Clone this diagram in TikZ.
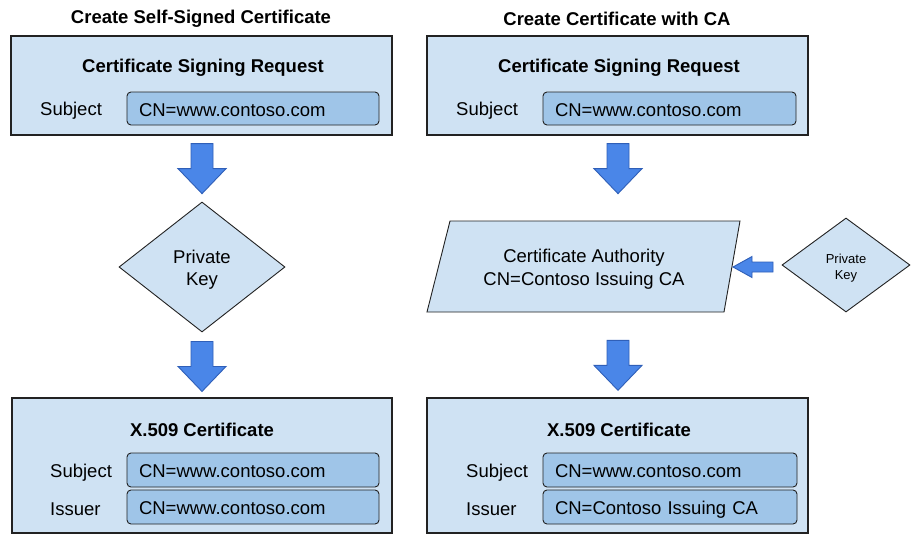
\documentclass[tikz,border=0pt]{standalone}
\usepackage{fontspec}
\setmainfont{Liberation Sans}
\usetikzlibrary{shapes.geometric,calc}
\definecolor{boxfill}{HTML}{CFE2F3}
\definecolor{fieldfill}{HTML}{9FC5E8}
\definecolor{arrfill}{HTML}{4A86E8}
\definecolor{arrdraw}{HTML}{2F5FB8}
\definecolor{edge}{HTML}{222222}
\begin{document}
\begin{tikzpicture}[x=1pt,y=-1pt,
  every node/.style={font=\fontsize{18.5}{22}\selectfont},
  panel/.style={draw=edge,line width=1.3pt,fill=boxfill,rectangle,inner sep=0pt},
  field/.style={draw=edge,line width=0.9pt,fill=fieldfill,rounded corners=4pt,
    minimum height=33pt,inner xsep=12pt,inner ysep=0pt,align=left,text height=15pt,text depth=0pt},
  lbl/.style={anchor=west,inner sep=0pt,yshift=-2.5pt},
  head/.style={font=\fontsize{18.5}{22}\selectfont\bfseries,inner sep=0pt,yshift=-2pt},
  keyshape/.style={draw=edge,line width=0.9pt,fill=boxfill,diamond,inner sep=0pt},
  keytext/.style={inner sep=0pt,align=center},
  arrowfill/.style={draw=arrdraw,line width=0.9pt,fill=arrfill,line join=miter},
  downarr/.pic={\draw[arrowfill] (-11,0) -- (11,0) -- (11,25) -- (24,25) -- (0,50) -- (-24,25) -- (-11,25) -- cycle;},
  leftarr/.pic={\draw[arrowfill] (0,0) -- (19,-10.5) -- (19,-5) -- (40,-5) -- (40,5) -- (19,5) -- (19,10.5) -- cycle;}
]
\fill[white] (0,0) rectangle (916,544);
\path[use as bounding box] (0,0) rectangle (916,544);

% column titles
\node[head] (t1) at (201,17) {Create Self-Signed Certificate};
\node[head] (t2) at (617,17) {Create Certificate with CA};

% ---------- left column ----------
\node[panel,minimum width=381pt,minimum height=99pt] (csr1) at (201.5,85.5) {};
\node[head] (csr1t) at (203,66) {Certificate Signing Request};
\node[lbl] (csr1s) at (40,108) {Subject};
\node[field,text width=228pt] (csr1f) at (253,108.5) {CN=www.contoso.com};

\node[keyshape,minimum width=166pt,minimum height=130pt] (key1) at (202,267) {};
\node[keytext] (key1t) at ($(key1.center)+(0,2.5)$) {Private\\Key};

\node[panel,minimum width=380pt,minimum height=135pt] (x1) at (202,465.5) {};
\node[head] (x1t) at (202,428) {X.509 Certificate};
\node[lbl] (x1s) at (50,470) {Subject};
\node[lbl] (x1i) at (50,507) {Issuer};
\node[field,text width=228pt,minimum height=34pt] (x1sf) at (253,470) {CN=www.contoso.com};
\node[field,text width=228pt,minimum height=34pt] (x1if) at (253,507) {CN=www.contoso.com};

\pic at ($(csr1.south)+(0.5,8)$) {downarr};
\pic at ($(key1.south)+(0,9)$) {downarr};

% ---------- right column ----------
\node[panel,minimum width=381pt,minimum height=99pt] (csr2) at (617.5,85.5) {};
\node[head] (csr2t) at (619,66) {Certificate Signing Request};
\node[lbl] (csr2s) at (456,108) {Subject};
\node[field,text width=229pt] (csr2f) at (669.5,108.5) {CN=www.contoso.com};

\draw[draw=edge,line width=0.9pt,fill=boxfill] (427,312) -- (450,221) -- (740,221) -- (724,312) -- cycle;
\node[align=center,inner sep=0pt] (ca) at (584,269.5) {Certificate Authority\\[1pt]CN=Contoso Issuing CA};
\coordinate (caR) at (733,267);

\node[keyshape,minimum width=128pt,minimum height=94pt] (key2) at (846,265) {};
\node[keytext,font=\fontsize{13}{16}\selectfont] (key2t) at ($(key2.center)+(0,3.5)$) {Private\\Key};

\node[panel,minimum width=381pt,minimum height=135pt] (x2) at (617.5,465.5) {};
\node[head] (x2t) at (619,428) {X.509 Certificate};
\node[lbl] (x2s) at (466,470) {Subject};
\node[lbl] (x2i) at (466,507) {Issuer};
\node[field,text width=230pt,minimum height=34pt] (x2sf) at (670,470) {CN=www.contoso.com};
\node[field,text width=230pt,minimum height=34pt] (x2if) at (670,507) {CN=Contoso Issuing CA};

\pic at ($(csr2.south)+(0.5,8)$) {downarr};
\pic at ($(x2.north)+(0.5,-57)$) {downarr};
\pic at (caR) {leftarr};
\end{tikzpicture}
\end{document}
